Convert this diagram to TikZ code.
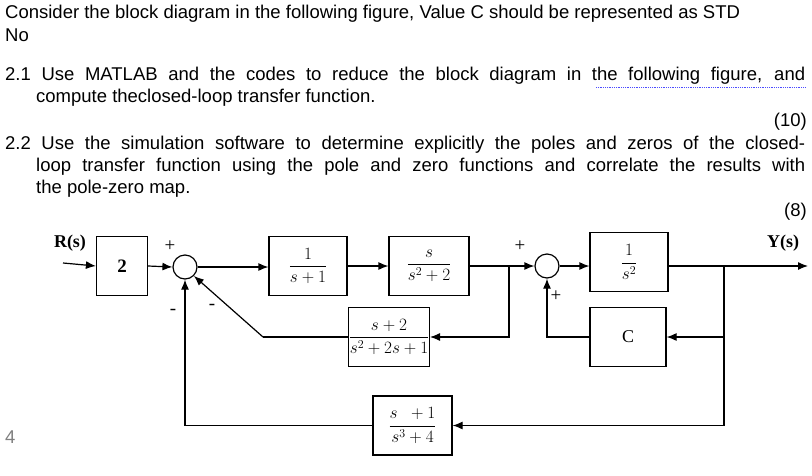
\documentclass[tikz,border=0pt]{standalone}
\usepackage{amsmath}
\usepackage{fontspec}
\setmainfont{Liberation Sans}
\newfontfamily\serf{Liberation Serif}
\usetikzlibrary{arrows.meta}
\begin{document}
\begin{tikzpicture}[x=1pt,y=-1pt,
  txt/.style={anchor=west,inner sep=0pt,font=\fontsize{18.5}{20}\selectfont},
  jus/.style={txt,align=justify,execute at begin node={\parfillskip=0pt}},
  blk/.style={draw,line width=1.2pt,minimum width=78pt,minimum height=59pt,font=\serf\fontsize{18}{20}\selectfont,inner sep=0pt},
  sum/.style={draw,circle,line width=1.2pt,minimum size=24pt,inner sep=0pt},
  sig/.style={font=\serf\fontsize{19}{20}\selectfont,inner sep=0pt},
  con/.style={line width=1.2pt,-{Latex[length=10pt,width=8pt]}},
  ln/.style={line width=1.2pt}]
\useasboundingbox (0,0) rectangle (812,475);
\node[txt] (t1) at (5,14) {Consider the block diagram in the following figure, Value C should be represented as STD};
\node[txt] (t2) at (5,35) {No};
\node[jus,text width=800pt] (t3) at (5,76) {2.1 Use MATLAB and the codes to reduce the block diagram in the following figure, and};
\node[txt] (t4) at (36,98) {compute theclosed-loop transfer function.};
\node[txt,anchor=east] (t5) at (807,122) {(10)};
\node[jus,text width=800pt] (t6) at (5,145) {2.2 Use the simulation software to determine explicitly the poles and zeros of the closed-};
\node[jus,text width=769pt] (t7) at (36,167) {loop transfer function using the pole and zero functions and correlate the results with};
\node[txt] (t8) at (36,189) {the pole-zero map.};
\node[txt,anchor=east] (t9) at (807,212) {(8)};
\node[txt,text=gray] (pg) at (5,437) {4};
\draw[blue!70,densely dotted,line width=0.8pt] (596,87) -- (806,87);

% blocks
\node[blk,minimum width=51pt,font=\serf\bfseries\fontsize{19}{20}\selectfont] (g2) at (122,266) {2};
\node[sum] (s1) at (185,267) {};
\node[blk] (g1) at (308,266) {$\dfrac{1}{s+1}$};
\node[blk,minimum width=80pt] (g3) at (429,266) {$\dfrac{s}{s^{2}+2}$};
\node[sum] (s2) at (547,266) {};
\node[blk] (g4) at (629,262) {$\dfrac{1}{s^{2}}$};
\node[blk,minimum width=76pt] (gc) at (628,337) {C};
\node[blk] (h1) at (389,337) {$\dfrac{s+2}{s^{2}+2s+1}$};
\node[blk,minimum width=79pt] (h2) at (412.5,425.5) {$\dfrac{s\;\;+1}{s^{3}+4}$};

\node[sig,font=\serf\bfseries\fontsize{18}{20}\selectfont] (R) at (70,243) {R(s)};
\node[sig,font=\serf\bfseries\fontsize{18}{20}\selectfont] (Y) at (783,243) {Y(s)};
\coordinate (rin) at (63,263);
\coordinate (b1) at (509,266);
\coordinate (b2) at (724,266);
\coordinate (b2c) at (724,337);
\coordinate (yout) at (808,266);
\coordinate (k1) at (263,337);

\draw[con] (rin) -- (g2.west);
\draw[con] (g2.east) -- (s1.west);
\draw[con] (s1.east) -- (g1.west |- s1.east);
\draw[con] (g1.east) -- (g3.west);
\draw[con] (g3.east) -- (s2.west);
\draw[con] (s2.east) -- (g4.west |- s2.east);
\draw[con] (g4.east |- b2) -- (yout);
\draw[con] (b1) |- (h1.east);
\draw[ln] (h1.west) -- (k1);
\draw[con] (k1) -- (s1.south east);
\draw[con] (b2) |- (gc.east);
\draw[con] (gc.west) -| (s2.south);
\draw[con] (b2c) |- (h2.east);
\draw[con] (h2.west) -| (s1.south);

\node[sig] (p1) at (170,246) {+};
\node[sig] (m1) at (173,312) {-};
\node[sig] (m2) at (212,307) {-};
\node[sig] (p2) at (520,246) {+};
\node[sig] (p3) at (556,296) {+};
\end{tikzpicture}
\end{document}
